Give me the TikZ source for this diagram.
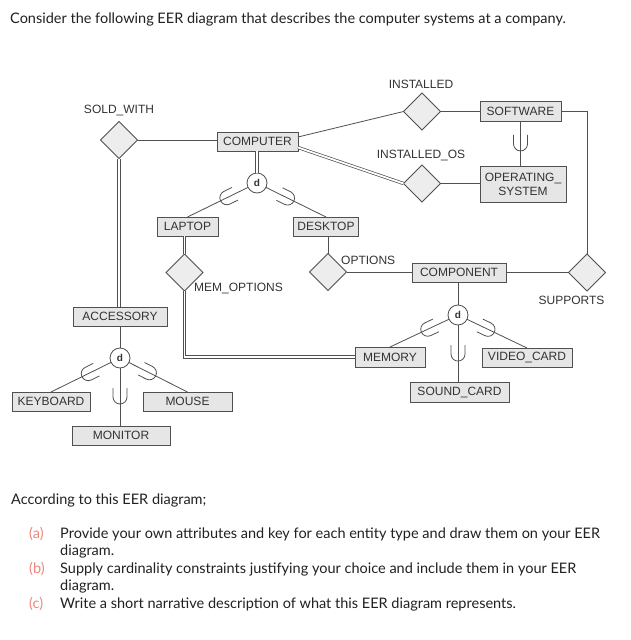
\documentclass[tikz,border=0pt]{standalone}
\usepackage{fontspec}
\setmainfont{Lato}
\newfontfamily\diagfont{Liberation Sans}
\usetikzlibrary{shapes.geometric,calc}
\definecolor{ln}{HTML}{505050}
\definecolor{boxfill}{HTML}{E6E6E6}
\definecolor{dfill}{HTML}{EDEDED}
\definecolor{txt}{HTML}{333333}
\definecolor{lbl}{HTML}{F0877B}
\begin{document}
\begin{tikzpicture}[x=1pt,y=-1pt,
 ent/.style={draw=ln, fill=boxfill, line width=0.8pt, inner sep=0pt, outer sep=0pt, minimum height=19pt, font=\diagfont\fontsize{12}{14}\selectfont, text=txt, align=center},
 rel/.style={diamond, draw=ln, fill=dfill, line width=0.8pt, inner sep=0pt, outer sep=0pt, minimum width=37pt, minimum height=37pt},
 dcirc/.style={circle, draw=ln, fill=white, line width=0.8pt, inner sep=0pt, outer sep=0pt, minimum size=20pt, font=\diagfont\bfseries\fontsize{10}{11}\selectfont, text=txt},
 lab/.style={font=\diagfont\fontsize{12}{14}\selectfont, text=txt, inner sep=0pt},
 conn/.style={draw=ln, line width=0.8pt},
 dbl/.style={draw=ln, line width=0.7pt, double=white, double distance=1.8pt},
 cupsym/.pic={\draw[ln, line width=0.8pt] (-9pt,7pt) -- (0pt,7pt) arc[start angle=90,end angle=-90,radius=7pt] -- (-9pt,-7pt);},
 cupon/.style={pos=#1, sloped, allow upside down},
 prose/.style={font=\fontsize{14.5}{17}\selectfont, text=black!87, inner sep=0pt, anchor=base west},
]
\useasboundingbox (0,0) rectangle (631,640);
\fill[white] (0,0) rectangle (631,640);

% entities
\node[ent, minimum width=81pt] (computer) at (257.5,141.5) {COMPUTER};
\node[ent, minimum width=81pt, minimum height=20pt] (software) at (520.5,111) {SOFTWARE};
\node[ent, minimum width=86pt, minimum height=36pt] (os) at (523,184) {OPERATING\_\\SYSTEM};
\node[ent, minimum width=61pt] (laptop) at (187.5,226.5) {LAPTOP};
\node[ent, minimum width=65pt] (desktop) at (326,226.5) {DESKTOP};
\node[ent, minimum width=94pt] (accessory) at (120,316.5) {ACCESSORY};
\node[ent, minimum width=78pt] (keyboard) at (51,401.5) {KEYBOARD};
\node[ent, minimum width=89pt] (mouse) at (187.5,401.5) {MOUSE};
\node[ent, minimum width=98pt] (monitor) at (121,435.5) {MONITOR};
\node[ent, minimum width=94pt] (component) at (459,272.5) {COMPONENT};
\node[ent, minimum width=70pt, minimum height=20pt] (memory) at (390,357) {MEMORY};
\node[ent, minimum width=90pt] (videocard) at (527,357.5) {VIDEO\_CARD};
\node[ent, minimum width=99pt, minimum height=20pt] (soundcard) at (459.5,392) {SOUND\_CARD};

% relationships
\node[rel] (soldwith) at (119,140) {};
\node[rel] (installed) at (422,111.5) {};
\node[rel] (installedos) at (422,183.5) {};
\node[rel] (memopt) at (184.5,272.5) {};
\node[rel] (options) at (328,272) {};
\node[rel] (supports) at (587,272.5) {};

% specialization circles
\node[dcirc] (dcomp) at (257,183) {d};
\node[dcirc] (dacc) at (120,358) {d};
\node[dcirc] (dcomponent) at (458,315) {d};

% relationship labels
\node[lab] (lsold) at (119,111) {SOLD\_WITH};
\node[lab] (linst) at (421,84) {INSTALLED};
\node[lab] (linstos) at (421,155) {INSTALLED\_OS};
\node[lab, anchor=west] (lmem) at (194,288) {MEM\_OPTIONS};
\node[lab, anchor=west] (lopt) at (341,260) {OPTIONS};
\node[lab] (lsup) at (571.5,300) {SUPPORTS};

% connectors
\draw[conn] (soldwith.east) -- (soldwith.east -| computer.west);
\draw[dbl] (soldwith.south) -- (soldwith.south |- accessory.north);
\draw[conn] ([yshift=4.5pt]computer.east) -- (installed.west);
\draw[dbl] ([yshift=-6pt]computer.east) -- (installedos.west);
\draw[conn] (installed.east) -- (installed.east -| software.west);
\draw[conn] (installedos.east) -- (installedos.east -| os.west);
\draw[conn] (software.south) -- pic[cupon=0.51]{cupsym} (software.south |- os.north);
\draw[conn] (software.east) -| (supports.north);

\draw[dbl] (dcomp |- computer.south) -- (dcomp);
\draw[conn] (dcomp) -- pic[cupon=0.35]{cupsym} (laptop.north);
\draw[conn] (dcomp) -- pic[cupon=0.36]{cupsym} (desktop.north);
\draw[dbl] (memopt.north |- laptop.south) -- (memopt.north);
\draw[dbl] (memopt.south) |- (memory.west);
\draw[conn] (options.north |- desktop.south) -- (options.north);
\draw[conn] (options.east) -- (options.east -| component.west);
\draw[conn] (component.east) -- (supports.west);

\draw[conn] (dcomponent |- component.south) -- (dcomponent);
\draw[conn] (dcomponent) -- pic[cupon=0.36]{cupsym} (memory.north);
\draw[conn] (dcomponent) -- pic[cupon=0.35]{cupsym} (videocard.north);
\draw[conn] (dcomponent) -- pic[cupon=0.51]{cupsym} (dcomponent |- soundcard.north);

\draw[conn] (accessory.south) -- (dacc);
\draw[conn] (dacc) -- pic[cupon=0.38]{cupsym} (keyboard.north);
\draw[conn] (dacc) -- pic[cupon=0.35]{cupsym} (mouse.north);
\draw[conn] (dacc) -- pic[cupon=0.5]{cupsym} (dacc |- monitor.north);

% prose
\node[prose] (title) at (10,23) {Consider the following EER diagram that describes the computer systems at a company.};
\node[prose] (acc) at (11,504) {According to this EER diagram;};
\node[prose, text=lbl] (la) at (29,538) {(a)};
\node[prose] (ta1) at (60,538) {Provide your own attributes and key for each entity type and draw them on your EER};
\node[prose] (ta2) at (60,555.5) {diagram.};
\node[prose, text=lbl] (lb) at (29,573) {(b)};
\node[prose] (tb1) at (60,573) {Supply cardinality constraints justifying your choice and include them in your EER};
\node[prose] (tb2) at (60,590.5) {diagram.};
\node[prose, text=lbl] (lc) at (29,608) {(c)};
\node[prose] (tc1) at (60,608) {Write a short narrative description of what this EER diagram represents.};
\end{tikzpicture}
\end{document}
